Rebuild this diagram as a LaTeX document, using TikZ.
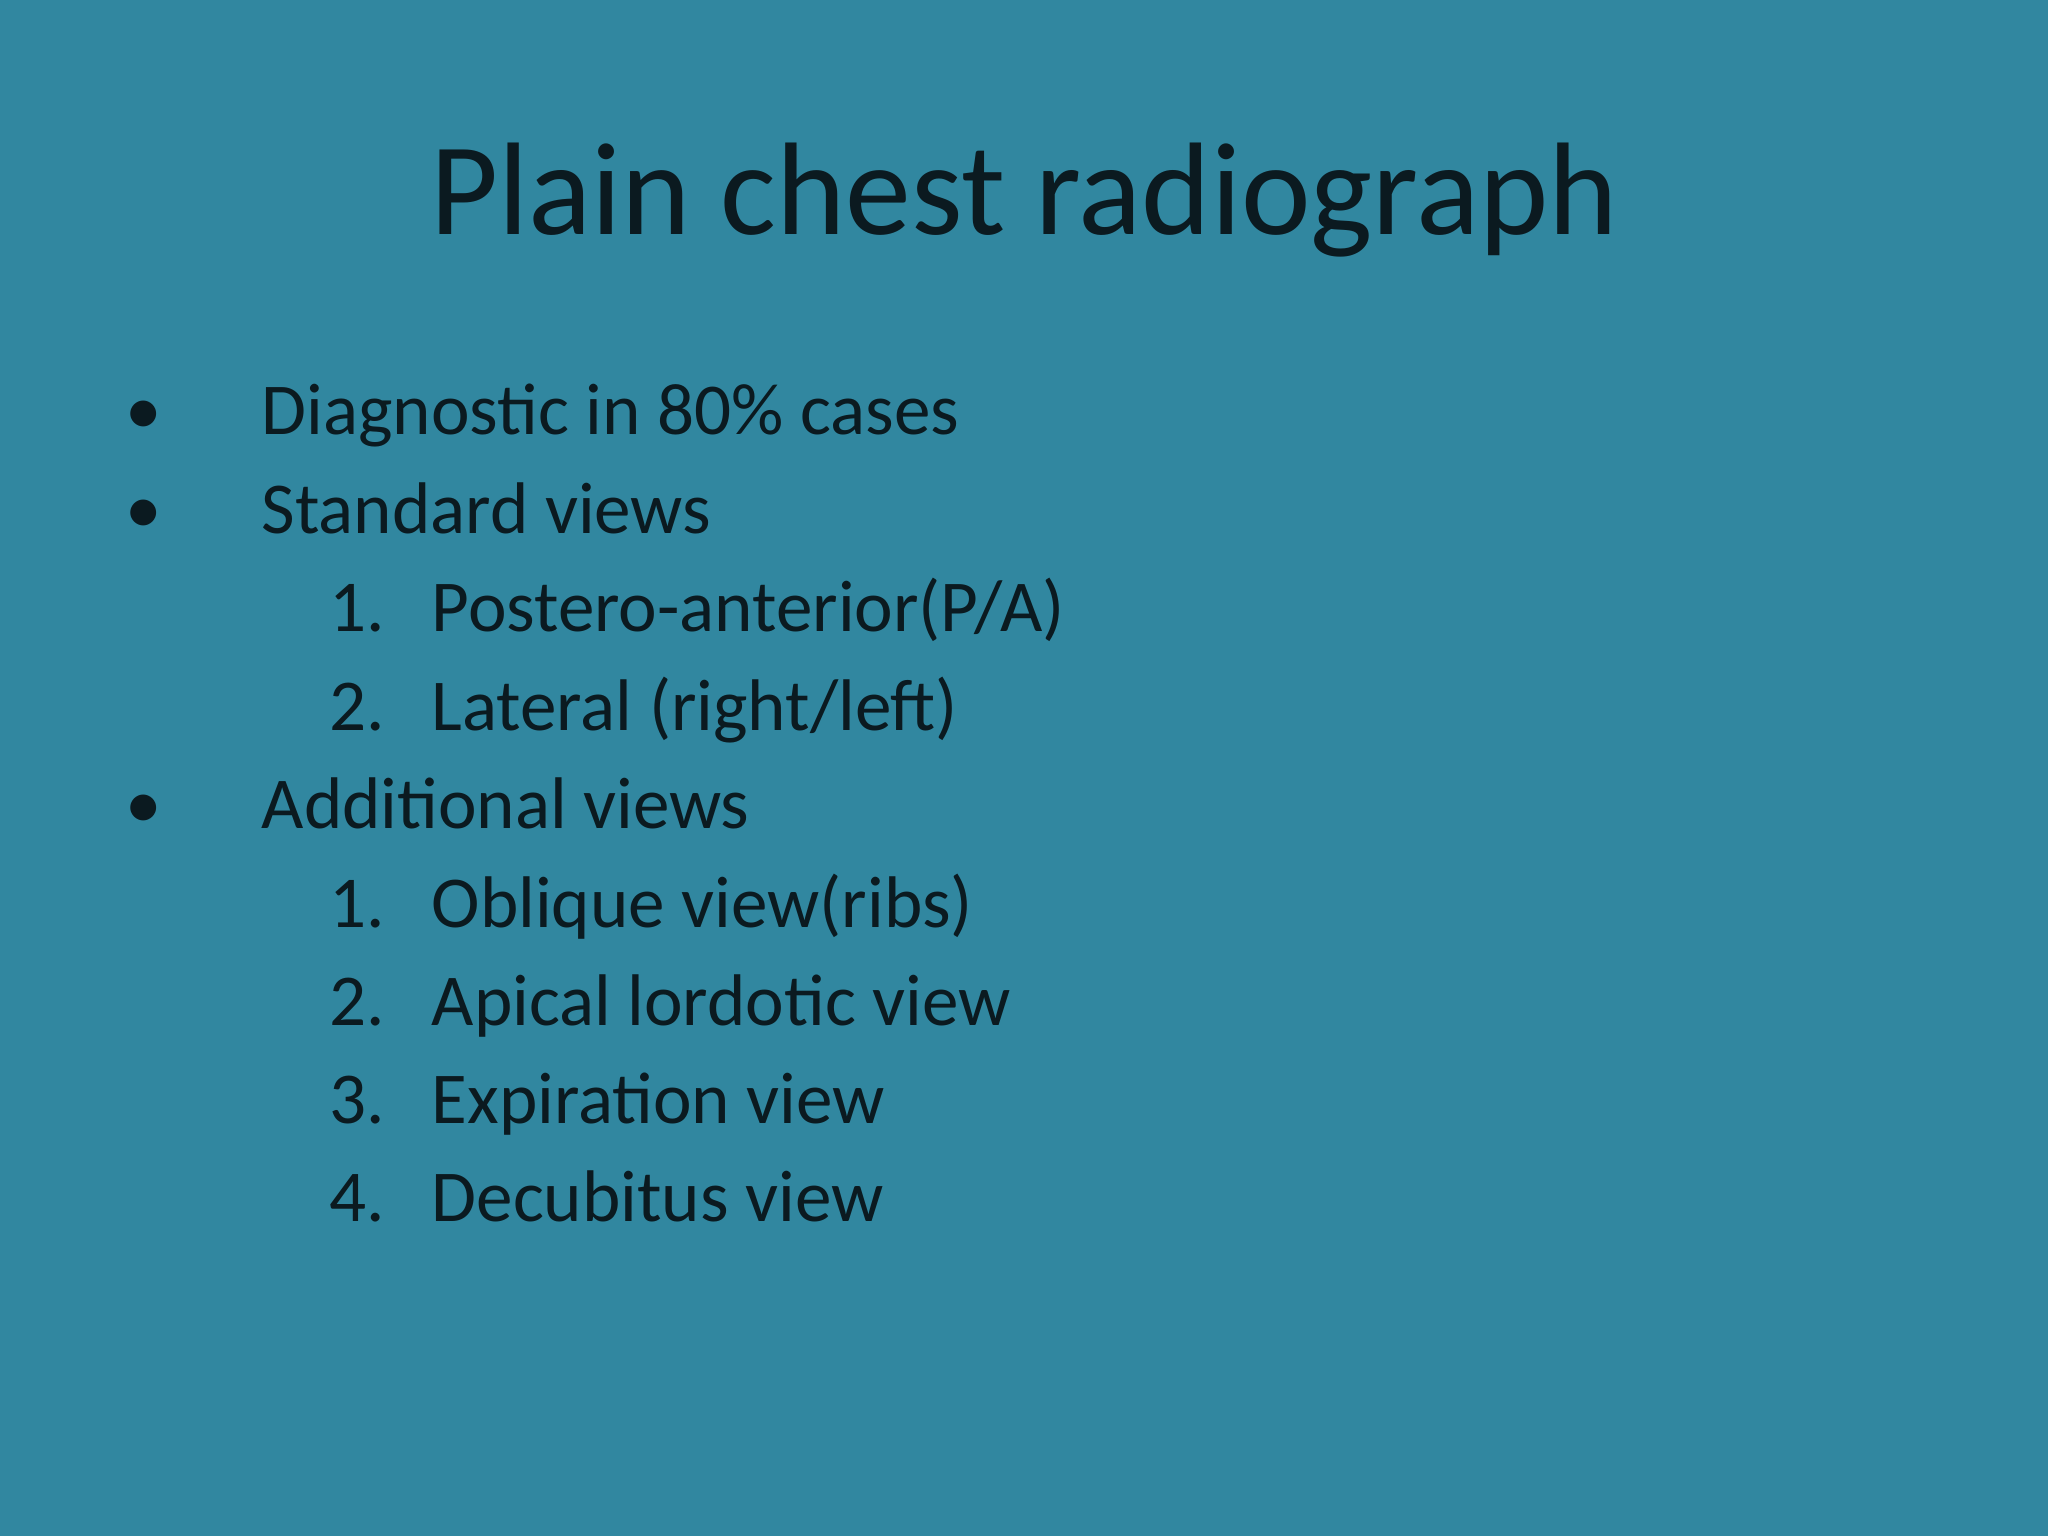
\documentclass[tikz,border=0pt]{standalone}
\usepackage{fontspec}
\setmainfont{Carlito}
\definecolor{bg}{HTML}{3187A0}
\definecolor{txt}{HTML}{0B1A20}
\begin{document}
\begin{tikzpicture}[x=1cm,y=1cm,
  body/.style={anchor=base west,inner sep=0pt,text=txt,font=\fontsize{20.8pt}{25pt}\selectfont}]
\fill[bg] (0,0) rectangle (20.48,-15.36);
\useasboundingbox (0,0) rectangle (20.48,-15.36);
\node[anchor=base,inner sep=0pt,text=txt,font=\fontsize{37.5pt}{45pt}\selectfont] (title) at (10.24,-2.35) {Plain chest radiograph};
\node[body] (b1) at (1.25,-4.35) {•};
\node[body] (t1) at (2.61,-4.35) {Diagnostic in 80\% cases};
\node[body] (b2) at (1.25,-5.33) {•};
\node[body] (t2) at (2.61,-5.33) {Standard views};
\node[body] (n1) at (3.29,-6.32) {1.};
\node[body] (s1) at (4.31,-6.32) {Postero-anterior(P/A)};
\node[body] (n2) at (3.29,-7.30) {2.};
\node[body] (s2) at (4.31,-7.30) {Lateral (right/left)};
\node[body] (b3) at (1.25,-8.28) {•};
\node[body] (t3) at (2.61,-8.28) {Additional views};
\node[body] (n3) at (3.29,-9.27) {1.};
\node[body] (s3) at (4.31,-9.27) {Oblique view(ribs)};
\node[body] (n4) at (3.29,-10.25) {2.};
\node[body] (s4) at (4.31,-10.25) {Apical lordotic view};
\node[body] (n5) at (3.29,-11.23) {3.};
\node[body] (s5) at (4.31,-11.23) {Expiration view};
\node[body] (n6) at (3.29,-12.21) {4.};
\node[body] (s6) at (4.31,-12.21) {Decubitus view};
\end{tikzpicture}
\end{document}
